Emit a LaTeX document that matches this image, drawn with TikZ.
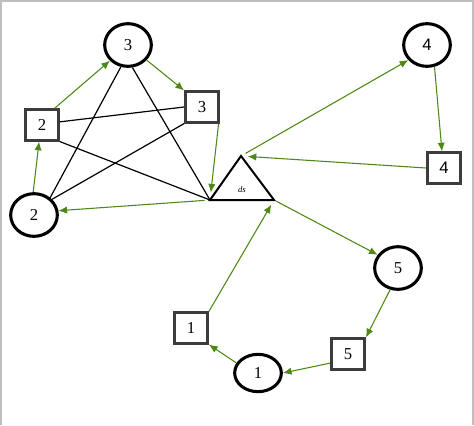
\documentclass[tikz,border=0pt]{standalone}
\usepackage{fontspec}
\setmainfont{Liberation Serif}
\newfontfamily\arialfont{Liberation Sans}
\usetikzlibrary{shapes.geometric,arrows.meta}
\definecolor{arrowgreen}{RGB}{78,136,20}
\definecolor{framegray}{RGB}{190,190,190}
\definecolor{boxgray}{RGB}{60,60,60}
\tikzset{
  circ/.style={ellipse,draw=black,line width=2.3pt,minimum width=35pt,minimum height=32pt,inner sep=0pt,font=\fontsize{12.5}{14}\selectfont},
  sqbox/.style={rectangle,draw=boxgray,line width=1.9pt,minimum width=25pt,minimum height=23pt,inner sep=0pt,fill=white,font=\fontsize{12.5}{14}\selectfont},
  garrow/.style={draw=arrowgreen,line width=0.8pt,-{Latex[length=6.5pt,width=5.5pt]}},
  bline/.style={draw=black,line width=0.9pt},
  tri/.style={draw=black,line width=1.5pt,line join=miter},
}
\begin{document}
\begin{tikzpicture}[x=0.75pt,y=-0.75pt]
\useasboundingbox (0,0) rectangle (474,425);
% frame
\draw[framegray,line width=1.5pt] (1,425) -- (1,1) -- (473,1) -- (473,425);

% nodes
\node[circ] (c3) at (128,45) {3};
\node[circ] (c2) at (34,215) {2};
\node[circ,font=\arialfont\fontsize{12.5}{14}\selectfont] (c4) at (427,45) {4};
\node[circ] (c5) at (398,268) {5};
\node[circ,minimum height=28pt] (c1) at (258,373) {1};

\node[sqbox] (sq2) at (42,125) {2};
\node[sqbox] (sq3) at (202,107) {3};
\node[sqbox,font=\arialfont\fontsize{12.5}{14}\selectfont] (sq4) at (444,168) {4};
\node[sqbox] (sq5) at (348,354) {5};
\node[sqbox] (sq1) at (191,328) {1};

% triangle
\coordinate (tA) at (241,156);
\coordinate (tL) at (210,200);
\coordinate (tR) at (274,200);
\node[font=\itshape\fontsize{6.5}{7}\selectfont,inner sep=0pt] (ds) at (242,190) {ds};

% black undirected lines
\draw[bline] (c3.252) -- (c2.47);
\draw[bline] (c3.281) -- (tL);
\draw[bline] (sq3.south west) -- (c2.41);
\draw[bline] (sq2.10) -- (sq3.west);
\draw[bline] (sq2.south east) -- (tL);

\draw[tri] (tA) -- (tL) -- (tR) -- cycle;

% green arrows
\draw[garrow] (sq2.53) -- (c3.221);
\draw[garrow] (c3.321) -- (sq3.north west);
\draw[garrow,shorten >=5.6pt] (sq3.-45) -- (tL);
\draw[garrow] (c2.92) -- (sq2.260);
\draw[garrow,shorten <=4pt] (tL) -- (c2.10);
\draw[garrow,shorten <=4pt] (tA) -- (c4.219);
\draw[garrow,shorten >=5pt] (sq4.west) -- (tA);
\draw[garrow] (c4.289) -- (sq4.97);
\draw[garrow,shorten <=2pt] (tR) -- (c5.147);
\draw[garrow] (c5.250) -- (sq5.north east);
\draw[garrow] (sq5.207) -- (c1.east);
\draw[garrow] (c1.155) -- (sq1.south east);
\draw[garrow,shorten >=4pt] (sq1.north east) -- (tR);
\end{tikzpicture}
\end{document}
